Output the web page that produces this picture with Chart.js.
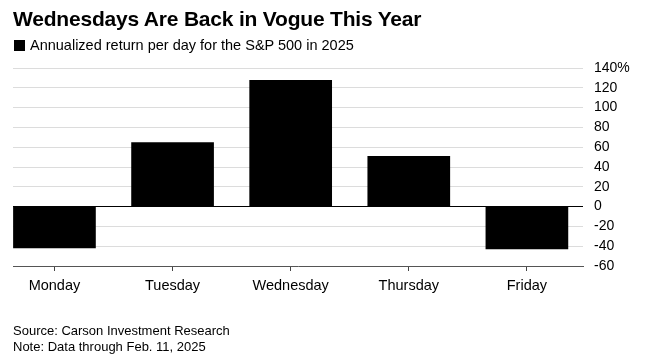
<!DOCTYPE html>
<html>
<head>
<meta charset="utf-8">
<script src="https://cdn.jsdelivr.net/npm/chart.js@4.4.1/dist/chart.umd.min.js"></script>
<style>
  body { margin: 0; background: #fff; font-family: "Liberation Sans", Arial, sans-serif; }
  #wrap { position: relative; width: 651px; height: 363px; overflow: hidden; }
  #plot { position: absolute; left: 0; top: 0; }
  .title { position: absolute; left: 13px; top: 7px; font-size: 21px; font-weight: bold; color: #000; letter-spacing: -0.2px; }
  .legend { position: absolute; left: 14px; top: 37px; font-size: 14.5px; color: #000; }
  .legend span { display: inline-block; width: 11px; height: 11px; background: #000; margin-right: 5px; vertical-align: -1px; }
  .note { position: absolute; left: 13px; font-size: 13px; color: #000; }
</style>
</head>
<body>
<div id="wrap">
  <canvas id="plot" width="651" height="363"></canvas>
  <div class="title">Wednesdays Are Back in Vogue This Year</div>
  <div class="legend"><span></span>Annualized return per day for the S&amp;P 500 in 2025</div>
  <div class="note" style="top:323px">Source: Carson Investment Research</div>
  <div class="note" style="top:339px">Note: Data through Feb. 11, 2025</div>
</div>
<script>
// days of week and annualized return (%)
var days = ["Monday", "Tuesday", "Wednesday", "Thursday", "Friday"];
var returns = [-42, 65, 128, 51, -43];
var yTicks = [-60, -40, -20, 0, 20, 40, 60, 80, 100, 120, 140];

function buildChart() {
  const ctx = document.getElementById("plot").getContext("2d");
  const chart = new Chart(ctx, {
    type: "bar",
    data: {
      datasets: [
        {
          label: "Annualized return per day for the S&P 500 in 2025",
          data: days.map((d, i) => ({ x: i, y: returns[i] })),
          backgroundColor: "#000",
          borderWidth: 0,
          barPercentage: 0.7,
          categoryPercentage: 1,
        },
      ],
    },
    options: {
      responsive: false,
      animation: false,
      layout: { padding: { top: 68, left: 13, right: 0, bottom: 57 } },
      plugins: { legend: { display: false }, tooltip: { enabled: false } },
      scales: {
        x: {
          type: "linear",
          offset: false,
          min: -0.351,
          max: 4.475,
          afterBuildTicks: (axis) => {
            axis.ticks = days.map((d, i) => ({ value: i }));
          },
          afterFit: (axis) => { axis.height = 40; },
          grid: { offset: false, drawOnChartArea: false, drawTicks: true, tickLength: 5, color: "#444" },
          border: { display: true, color: "#555", width: 1 },
          ticks: {
            padding: 6,
            color: "#000",
            font: { family: "Liberation Sans", size: 14.5 },
            callback: (v) => days[v],
            maxRotation: 0,
            autoSkip: false,
          },
        },
        y: {
          position: "right",
          min: -60,
          max: 140,
          afterBuildTicks: (axis) => {
            axis.ticks = yTicks.map((v) => ({ value: v }));
          },
          afterFit: (axis) => { axis.width = 68; },
          grid: {
            drawTicks: false,
            color: (c) => (c.tick && c.tick.value === 0 ? "#000" : "#dcdcdc"),
            lineWidth: 1,
          },
          border: { display: false },
          ticks: {
            padding: 11,
            color: "#000",
            font: { family: "Liberation Sans", size: 14 },
            callback: (v) => (v === 140 ? v + "%" : v),
          },
        },
      },
    },
  });
  return chart;
}

buildChart();
</script>
</body>
</html>
